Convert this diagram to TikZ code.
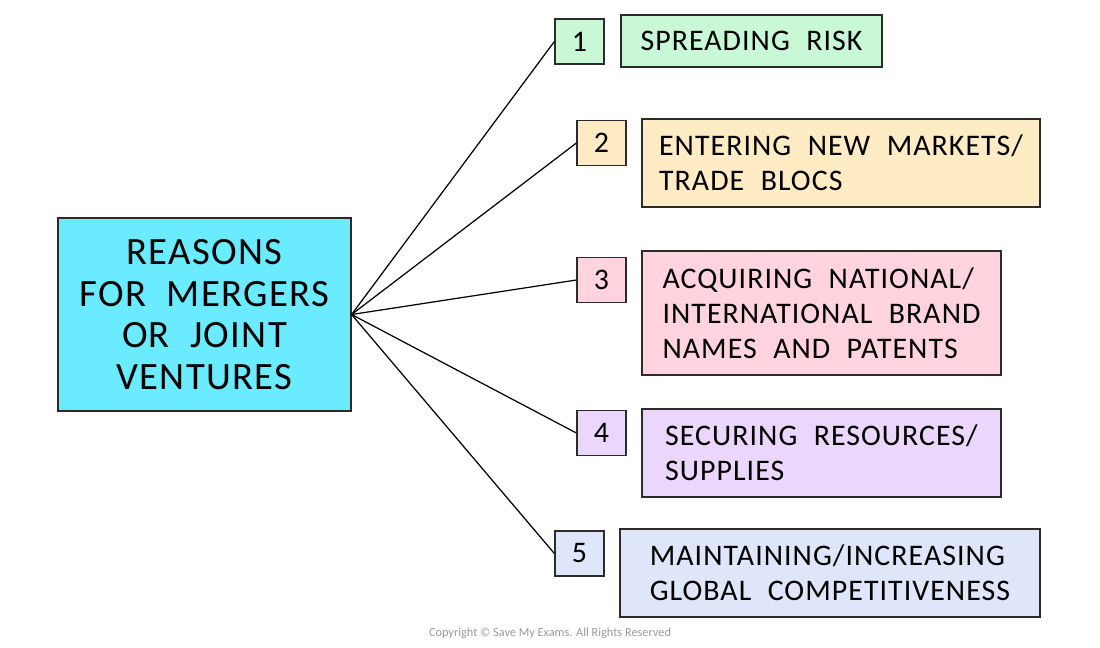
\documentclass[tikz,border=0pt]{standalone}
\usepackage{fontspec}
\setmainfont{Carlito}[WordSpace=2,LetterSpace=3.5]
\newfontfamily\copyfont{Carlito}
\definecolor{boxline}{HTML}{2B2B2B}
\definecolor{maincyan}{HTML}{6AEBFF}
\definecolor{riskgreen}{HTML}{C8F8D6}
\definecolor{marketorange}{HTML}{FFEBC4}
\definecolor{brandpink}{HTML}{FFD4DE}
\definecolor{supplypurple}{HTML}{EAD7FB}
\definecolor{globalblue}{HTML}{E0E6FA}

\begin{document}
\begin{tikzpicture}[x=0.02cm,y=-0.02cm,
  mainbox/.style={draw=boxline,line width=0.7pt,fill=maincyan,align=center,
    minimum width=5.86cm,minimum height=3.86cm,font=\fontsize{22}{23.8}\selectfont},
  numbox/.style={draw=boxline,line width=0.7pt,minimum width=0.98cm,
    minimum height=0.9cm,inner sep=0pt,font=\fontsize{17}{20}\selectfont},
  reasonbox/.style={draw=boxline,line width=0.7pt,align=left,inner sep=0pt,
    font=\fontsize{17}{19.8}\selectfont,
    execute at begin node={\spaceskip=0.55em\relax}},
  link/.style={line width=0.7pt}]
\useasboundingbox (0,0) rectangle (1100,647);
% centre box
\node[mainbox] (reasons) at (204.5,314.5) {REASONS\\FOR MERGERS\\OR JOINT\\VENTURES};
% numbers
\node[numbox,fill=riskgreen] (n1) at (579.5,41.5) {1};
\node[numbox,fill=marketorange] (n2) at (601.5,143) {2};
\node[numbox,fill=brandpink] (n3) at (601.5,280) {3};
\node[numbox,fill=supplypurple] (n4) at (601.5,433) {4};
\node[numbox,fill=globalblue] (n5) at (579.5,553.5) {5};
% reasons
\node[reasonbox,fill=riskgreen,minimum width=5.22cm,minimum height=1.04cm] (r1) at (751.5,41) {SPREADING RISK};
\node[reasonbox,fill=marketorange,minimum width=7.96cm,minimum height=1.76cm] (r2) at (841,163) {ENTERING NEW MARKETS/\\TRADE BLOCS};
\node[reasonbox,fill=brandpink,minimum width=7.18cm,minimum height=2.48cm] (r3) at (821.5,313) {ACQUIRING NATIONAL/\\INTERNATIONAL BRAND\\NAMES AND PATENTS};
\node[reasonbox,fill=supplypurple,minimum width=7.18cm,minimum height=1.76cm] (r4) at (821.5,453) {SECURING RESOURCES/\\SUPPLIES};
\node[reasonbox,fill=globalblue,minimum width=8.4cm,minimum height=1.76cm] (r5) at (830,573) {MAINTAINING/INCREASING\\GLOBAL COMPETITIVENESS};
% links
\draw[link] (reasons.east) -- (n1.west);
\draw[link] (reasons.east) -- (n2.west);
\draw[link] (reasons.east) -- (n3.west);
\draw[link] (reasons.east) -- (n4.west);
\draw[link] (reasons.east) -- (n5.west);
\node[text=black!40,font=\copyfont\fontsize{7}{8}\selectfont] (copy) at (550,633) {Copyright © Save My Exams. All Rights Reserved};
\end{tikzpicture}
\end{document}
